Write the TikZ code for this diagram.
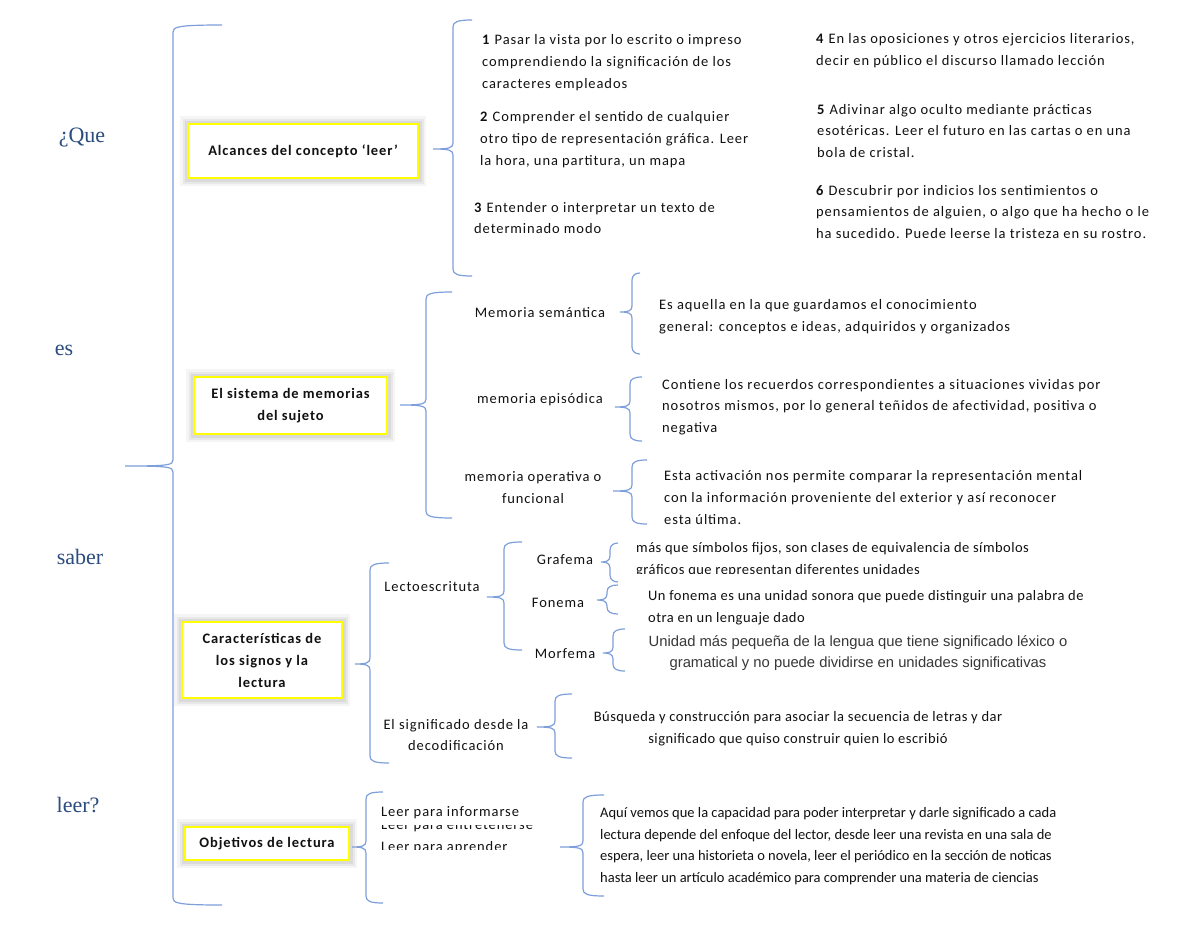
\documentclass[tikz,border=0pt]{standalone}
\usepackage{fontspec}
\setmainfont{Carlito}[LetterSpace=6.3]
\newfontfamily\midfont{Carlito}[LetterSpace=3.3]
\newfontfamily\plainfont{Carlito}
\newfontfamily\titlefont{Liberation Serif}
\newfontfamily\arialfont{Liberation Sans}
\usetikzlibrary{positioning}

\definecolor{bracecol}{HTML}{7F9FDB}
\definecolor{titlecol}{HTML}{2B4C7E}
\definecolor{ink}{HTML}{111111}
\definecolor{boxline}{HTML}{FFFF00}

\tikzset{
  brc/.style={draw=bracecol, line width=1.2pt},
  hdr/.style={draw=boxline, line width=2.5pt, fill=white, align=center,
    font=\bfseries\fontsize{14.5}{22}\selectfont, text=ink, inner sep=0pt,
    preaction={draw=black, opacity=.04, line width=16pt},
    preaction={draw=black, opacity=.05, line width=11pt},
    preaction={draw=black, opacity=.06, line width=7pt}},
  word/.style={font=\titlefont\fontsize{22}{26}\selectfont, text=titlecol},
  txt/.style={font=\fontsize{14.5}{21.7}\selectfont, align=left, anchor=west, inner sep=0pt, text=ink},
  kid/.style={font=\fontsize{14.5}{21.7}\selectfont, align=center, inner sep=0pt, text=ink},
}

% left brace: line x, top, bottom, tip x, tip y, end x
\newcommand{\lbrc}[6]{%
  \draw[brc] (#6,#2) .. controls (#1+4,#2) and (#1,#2+2) .. (#1,#2+7)
    -- (#1,#5-6) .. controls (#1,#5-1) and (#1-4,#5) .. (#4,#5)
    .. controls (#1-4,#5) and (#1,#5+1) .. (#1,#5+6)
    -- (#1,#3-7) .. controls (#1,#3-2) and (#1+4,#3) .. (#6,#3);}

\begin{document}
\begin{tikzpicture}[x=1pt, y=-1pt]
\useasboundingbox[fill=white] (0,0) rectangle (1200,927);

% question
\node[word] (que) at (82,137) {¿Que};
\node[word] (es) at (64,350) {es};
\node[word] (saber) at (80,557) {saber};
\node[word] (leerq) at (78,805) {leer?};

% main boxes
\node[hdr, minimum width=230pt, minimum height=54pt] (alc) at (303,151) {Alcances del concepto ‘leer’};
\node[hdr, minimum width=193pt, minimum height=57pt] (mem) at (290.5,405.5) {El sistema de memorias\\del sujeto};
\node[hdr, minimum width=160pt, minimum height=76pt] (car) at (262,660) {Características de\\los signos y la\\lectura};
\node[hdr, minimum width=164pt, minimum height=33pt] (obj) at (267,843.5) {Objetivos de lectura};

% alcances
\node[txt] (a1) at (482,62.5) {\textbf{1} Pasar la vista por lo escrito o impreso\\comprendiendo la significación de los\\caracteres empleados};
\node[txt] (a2) at (480,139.5) {\textbf{2} Comprender el sentido de cualquier\\otro tipo de representación gráfica. Leer\\la hora, una partitura, un mapa};
\node[txt] (a3) at (474,218) {\textbf{3} Entender o interpretar un texto de\\determinado modo};
\node[txt] (a4) at (816,50.5) {\textbf{4} En las oposiciones y otros ejercicios literarios,\\decir en público el discurso llamado lección};
\node[txt] (a5) at (817,131) {\textbf{5} Adivinar algo oculto mediante prácticas\\esotéricas. Leer el futuro en las cartas o en una\\bola de cristal.};
\node[txt] (a6) at (816,212) {\textbf{6} Descubrir por indicios los sentimientos o\\pensamientos de alguien, o algo que ha hecho o le\\ha sucedido. Puede leerse la tristeza en su rostro.};

% memorias
\node[kid] (msem) at (540,313) {Memoria semántica};
\node[kid] (mepi) at (540,400) {memoria episódica};
\node[kid] (mope) at (533,487.5) {memoria operativa o\\funcional};
\node[txt] (dsem) at (659,316.5) {Es aquella en la que guardamos el conocimiento\\general: conceptos e ideas, adquiridos y organizados};
\node[txt] (depi) at (662,407) {Contiene los recuerdos correspondientes a situaciones vividas por\\nosotros mismos, por lo general teñidos de afectividad, positiva o\\negativa};
\node[txt] (dope) at (664,497.5) {Esta activación nos permite comparar la representación mental\\con la información proveniente del exterior y así reconocer\\esta última.};

% signos
\node[kid] (lecto) at (432,587) {Lectoescrituta};
\node[kid] (signif) at (456,735) {El significado desde la\\decodificación};
\node[kid] (graf) at (565,560) {Grafema};
\node[kid] (fon) at (558,603) {Fonema};
\node[kid] (morf) at (565,654) {Morfema};
\begin{scope}
  \clip (600,530) rectangle (1200,573);
  \node[txt, font=\midfont\fontsize{14.5}{21.7}\selectfont] (dgraf) at (636,559.5) {más que símbolos fijos, son clases de equivalencia de símbolos\\gráficos que representan diferentes unidades};
\end{scope}
\node[txt, font=\midfont\fontsize{14.5}{21.7}\selectfont] (dfon) at (648,608) {Un fonema es una unidad sonora que puede distinguir una palabra de\\otra en un lenguaje dado};
\node[kid, font=\arialfont\fontsize{14.8}{21}\selectfont, text=black!78] (dmorf) at (858,653.5) {Unidad más pequeña de la lengua que tiene significado léxico o\\gramatical y no puede dividirse en unidades significativas};
\node[kid, font=\midfont\fontsize{14.5}{21.7}\selectfont] (dsig) at (798,728.5) {Búsqueda y construcción para asociar la secuencia de letras y dar\\significado que quiso construir quien lo escribió};

% objetivos
\node[txt, anchor=base west] (inf) at (381,816) {Leer para informarse};
\begin{scope}
  \clip (370,825) rectangle (560,832);
  \node[txt, anchor=base west] (ent) at (381,829.5) {Leer para entretenerse};
\end{scope}
\begin{scope}
  \clip (370,835) rectangle (560,849.5);
  \node[txt, anchor=base west] (apr) at (381,851) {Leer para aprender};
\end{scope}
\node[txt, font=\plainfont\fontsize{14.5}{21.7}\selectfont] (dobj) at (600,846) {Aquí vemos que la capacidad para poder interpretar y darle significado a cada\\lectura depende del enfoque del lector, desde leer una revista en una sala de\\espera, leer una historieta o novela, leer el periódico en la sección de noticas\\hasta leer un artículo académico para comprender una materia de ciencias};

% braces
\lbrc{173}{25}{905}{125}{466}{222}
\lbrc{453}{20}{276}{433}{149}{472}
\lbrc{426}{292}{518}{400}{405}{452}
\lbrc{632}{273}{354}{620}{312}{640}
\lbrc{630}{377}{441}{615}{407}{642}
\lbrc{632}{460}{524}{613}{491}{647}
\lbrc{370}{563}{763}{355}{664}{389}
\lbrc{504}{542}{650}{487}{597}{522}
\lbrc{610}{543}{582}{601}{562}{618}
\lbrc{607}{585}{614}{597}{600}{618}
\lbrc{613}{629}{671}{603}{653}{625}
\lbrc{555}{694}{758}{537}{727}{572}
\lbrc{366}{792}{903}{352}{847}{383}
\lbrc{583}{795}{896}{560}{847}{604}
\end{tikzpicture}
\end{document}
